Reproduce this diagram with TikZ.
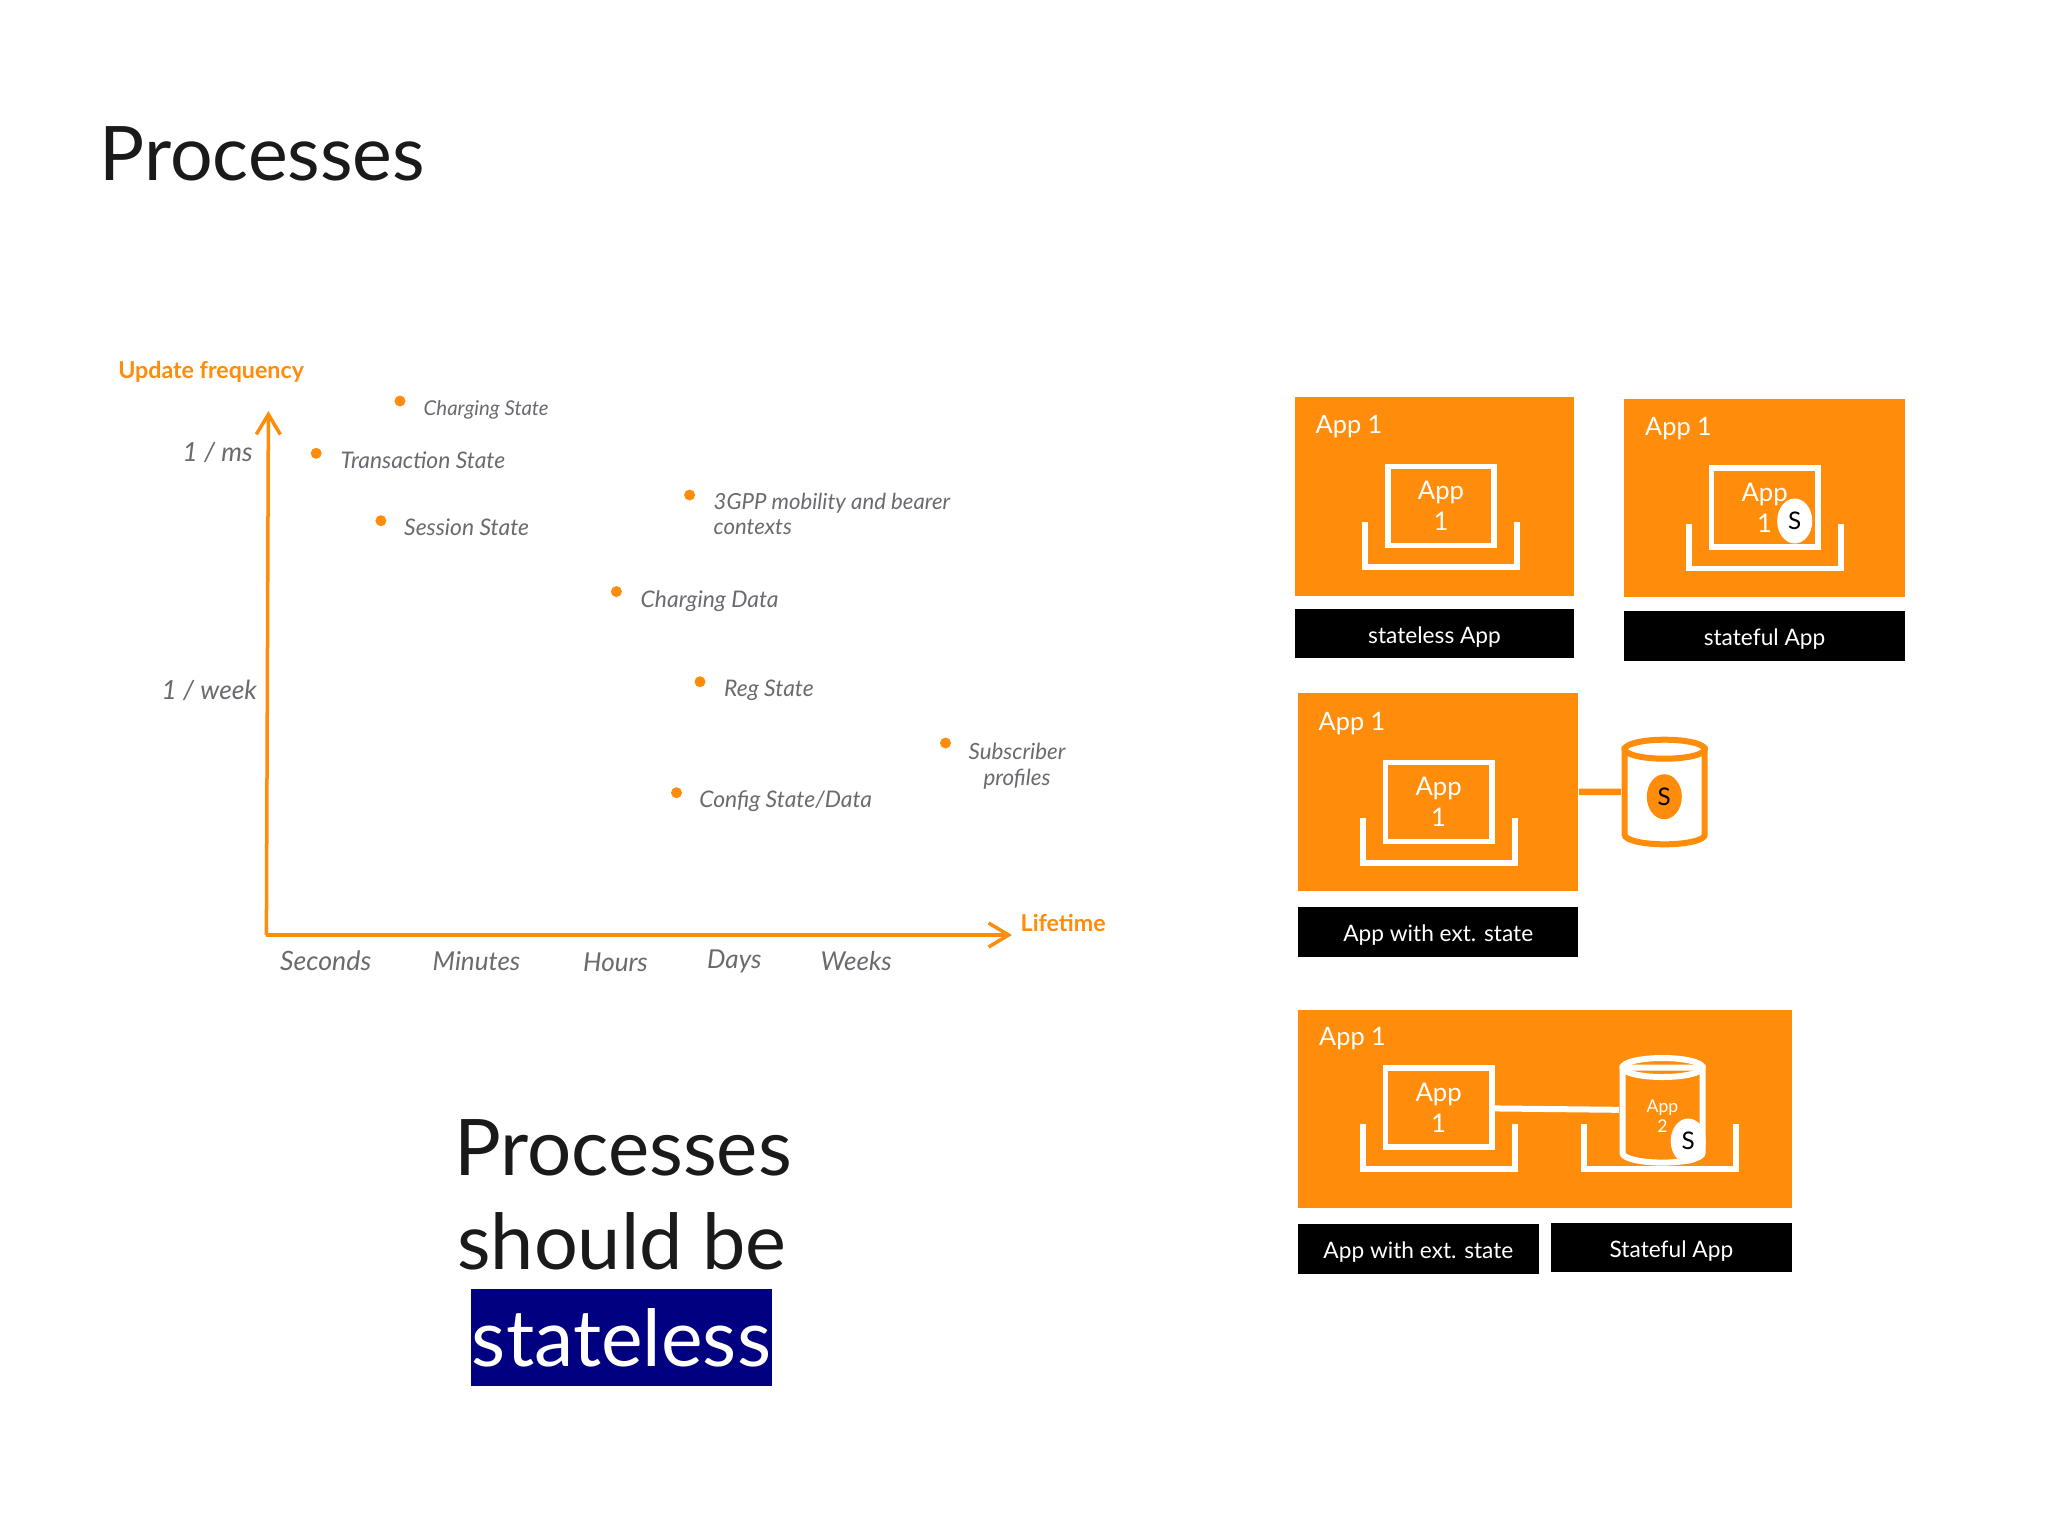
\documentclass[tikz,border=0pt]{standalone}
\usepackage{fontspec}
\setmainfont{Lato}
\usetikzlibrary{arrows.meta}
\usetikzlibrary{shapes.geometric}
\definecolor{hostorange}{HTML}{FF8C0A}
\definecolor{notegray}{HTML}{6A6A70}
\definecolor{inkblack}{HTML}{1A1A1A}
\definecolor{navyfill}{HTML}{000080}
\tikzset{t/.style={font=\fontsize{#1}{#1}\selectfont}}
\tikzset{n/.style={font=\fontsize{#1}{#1}\selectfont\itshape,text=notegray,anchor=base west,inner sep=0pt}}
\tikzset{axistext/.style={font=\fontsize{6.6}{6.6}\selectfont\bfseries,text=hostorange,anchor=base west,inner sep=0pt}}
\tikzset{ptdot/.style={circle,fill=hostorange,inner sep=0pt,minimum size=0.11cm}}
\tikzset{axisline/.style={draw=hostorange,line width=0.35mm,-{Straight Barb[length=2mm,width=2.4mm,line width=0.35mm]}}}
\tikzset{hostbox/.style={fill=hostorange,inner sep=0pt,text=white}}
\tikzset{blackbar/.style={fill=black,inner sep=0pt,text=white,text height=2.7mm,text depth=0.8mm,font=\fontsize{6.45}{6.45}\selectfont}}
\tikzset{hostname/.style={text=white,font=\fontsize{7.2}{7.2}\selectfont,anchor=base west,inner sep=0pt}}
\tikzset{appframe/.style={draw=white,line width=0.58mm,inner sep=0pt,minimum width=1.06cm,minimum height=0.79cm,text=white,align=center,font=\fontsize{7.3}{8.9}\selectfont}}
\tikzset{trayline/.style={draw=white,line width=0.58mm}}
\tikzset{stateoval/.style={ellipse,fill=white,inner sep=0pt,minimum width=0.35cm,minimum height=0.45cm,font=\fontsize{6.9}{6.9}\selectfont,text=black}}
\tikzset{store/.style={inner sep=0pt,minimum width=0.86cm,minimum height=1.1cm}}
\tikzset{drumline/.style={line width=0.6mm}}
\newcommand{\traybelow}[2]{\draw[trayline] (#1-76,#2+16) -- (#1-76,#2+61) -- (#1+76,#2+61) -- (#1+76,#2+16);}
\newcommand{\drumat}[3]{
  \draw[drumline,#3] (#1-40,#2-42.8) -- (#1-40,#2+42.8)
    arc [start angle=180,end angle=0,x radius=40,y radius=9.5] -- (#1+40,#2-42.8) -- cycle;
  \draw[drumline,#3] (#1,#2-42.8) circle [x radius=40,y radius=9.5];
}

\begin{document}
\begin{tikzpicture}[x=0.01cm,y=-0.01cm]
  \path[use as bounding box,fill=white] (0,0) rectangle (2048,1536);
  \node (title) [t=21.4,text=inkblack,anchor=base west,inner sep=0pt] at (99,180) {Processes};
  % axes
  \coordinate (origin) at (266.4,935);
  \coordinate (ytip) at (268.4,411);
  \coordinate (xtip) at (1012,935);
  \draw[axisline] (origin) -- (ytip);
  \draw[axisline] (origin) -- (xtip);
  \node (yname) [axistext] at (117.6,378) {Update frequency};
  \node (xname) [axistext] at (1020,931) {Lifetime};
  \node (perms) [n=7.5] at (182,461.7) {1 / ms};
  \node (perweek) [n=7.5] at (161,699) {1 / week};
  \node (seconds) [n=7.6] at (279.5,970) {Seconds};
  \node (minutes) [n=7.4] at (432,970) {Minutes};
  \node (hours) [n=7.4] at (582.5,971.7) {Hours};
  \node (days) [n=7.4] at (706.5,968) {Days};
  \node (weeks) [n=7.4] at (820,970) {Weeks};
  % data points
  \node (dotcharging) [ptdot] at (400,401) {};
  \node (txtcharging) [n=5.8] at (423,415) {Charging State};
  \node (dottrans) [ptdot] at (316.2,453.3) {};
  \node (txttrans) [n=6.5] at (340,468.3) {Transaction State};
  \node (dotsession) [ptdot] at (380.9,520.7) {};
  \node (txtsession) [n=6.5] at (403.5,535.7) {Session State};
  \node (dotmobility) [ptdot] at (689.6,495) {};
  \node (txtmobility) [n=6.3] at (713,509.5) {3GPP mobility and bearer};
  \node (txtcontexts) [n=6.3] at (713,534) {contexts};
  \node (dotdata) [ptdot] at (616.4,591.6) {};
  \node (txtdata) [n=6.5] at (640,607) {Charging Data};
  \node (dotreg) [ptdot] at (700,681.7) {};
  \node (txtreg) [n=6.5] at (723.5,696) {Reg State};
  \node (dotsubs) [ptdot] at (945.5,743) {};
  \node (txtsubs) [n=6.35,anchor=base] at (1017,759) {Subscriber};
  \node (txtprofiles) [n=6.35,anchor=base] at (1017,785) {profiles};
  \node (dotconfig) [ptdot] at (676.5,792.7) {};
  \node (txtconfig) [n=6.5] at (698.7,807) {Config State/Data};
  % big statement
  \node (bigone) [t=22.2,text=inkblack,anchor=base,inner sep=0pt] at (623,1175) {Processes};
  \node (bigtwo) [t=22,text=inkblack,anchor=base,inner sep=0pt] at (622,1269) {should be};
  \node (bigthree) [t=22.4,text=white,fill=navyfill,inner sep=0pt,minimum width=3.01cm,minimum height=0.97cm] at (621.5,1337.5) {stateless};
  % stateless app
  \node (boxa) [hostbox,minimum width=2.795cm,minimum height=1.99cm] at (1434.5,496.3) {};
  \node (bara) [blackbar,minimum width=2.795cm,minimum height=0.496cm] at (1434.5,633.5) {stateless App};
  \node (namea) [hostname] at (1315,433.8) {App 1};
  \node (framea) [appframe] at (1441,506) {App\\1};
  \traybelow{1441}{506}
  % stateful app
  \node (boxb) [hostbox,minimum width=2.803cm,minimum height=1.985cm] at (1764.5,497.8) {};
  \node (barb) [blackbar,minimum width=2.803cm,minimum height=0.496cm] at (1764.5,635.7) {stateful App};
  \node (nameb) [hostname] at (1644.5,435.8) {App 1};
  \node (frameb) [appframe] at (1764.6,507.5) {App\\1};
  \traybelow{1764.6}{507.5}
  \node (stateb) [stateoval] at (1794.7,521) {S};
  % app with external state
  \node (boxc) [hostbox,minimum width=2.804cm,minimum height=1.983cm] at (1438.2,791.85) {};
  \node (barc) [blackbar,minimum width=2.804cm,minimum height=0.494cm] at (1438.2,932) {App with ext. state};
  \node (namec) [hostname] at (1318,730.8) {App 1};
  \node (framec) [appframe] at (1438.6,802) {App\\1};
  \traybelow{1438.6}{802}
  \node (storec) [store] at (1664.7,792) {}
    edge [draw=hostorange,line width=0.65mm] (boxc);
  \drumat{1664.7}{792}{draw=hostorange,fill=white}
  \node (statec) [stateoval,fill=hostorange] at (1664.3,796.7) {S};
  % app and stateful app on one host
  \node (boxd) [hostbox,minimum width=4.939cm,minimum height=1.983cm] at (1544.9,1109.2) {};
  \node (bard) [blackbar,minimum width=2.41cm,minimum height=0.495cm] at (1418.4,1249) {App with ext. state};
  \node (bare) [blackbar,minimum width=2.408cm,minimum height=0.495cm] at (1671.4,1247.5) {Stateful App};
  \node (named) [hostname] at (1318.5,1045.7) {App 1};
  \node (framed) [appframe] at (1438.6,1107.8) {App\\1};
  \traybelow{1438.6}{1107.8}
  \traybelow{1660.3}{1108}
  \node (stored) [store] at (1662.5,1110.3) {}
    edge [draw=white,line width=0.6mm] (framed);
  \drumat{1662.5}{1110.3}{draw=white}
  \node (apptwo) [text=white,align=center,inner sep=0pt,font=\fontsize{5}{5.7}\selectfont] at (1662.5,1116) {App\\2};
  \node (stated) [stateoval] at (1688.2,1141) {S};
\end{tikzpicture}
\end{document}
